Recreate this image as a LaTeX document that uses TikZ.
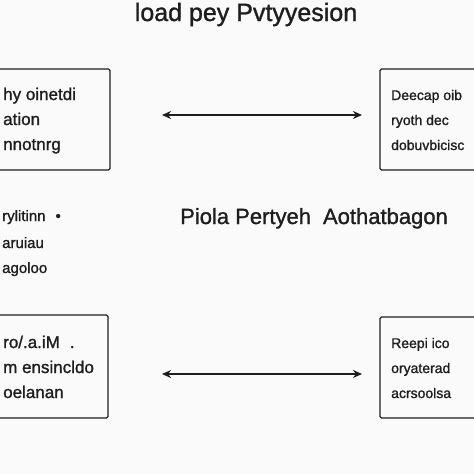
\documentclass[tikz,border=0pt]{standalone}
\usepackage{fontspec}
\setmainfont{Liberation Sans}[FakeBold=1.2]
\usetikzlibrary{arrows.meta}
\definecolor{ink}{HTML}{1E1E1E}
\definecolor{paper}{HTML}{FAFAFA}
\begin{document}
\begin{tikzpicture}[x=1pt,y=-1pt,
  box/.style={draw=ink,line width=1.2pt,rounded corners=1.5pt},
  boxtxt/.style={anchor=base west,inner sep=0pt,text=ink,font=\fontsize{17}{17}\selectfont},
  rtxt/.style={anchor=base west,inner sep=0pt,text=ink,font=\fontsize{14}{14}\selectfont},
  midtxt/.style={anchor=base west,inner sep=0pt,text=ink,font=\fontsize{15}{15}\selectfont},
  link/.style={draw=ink,line width=1.6pt,{Stealth[length=9pt,width=8pt]}-{Stealth[length=9pt,width=8pt,open]}}]
\useasboundingbox (0,0) rectangle (474,474);
\fill[paper] (0,0) rectangle (474,474);
% title
\node[anchor=base,inner sep=0pt,text=ink,font=\fontsize{25}{25}\selectfont] (title) at (246,21) {load pey Pvtyyesion};
% top left box
\draw[box] (-2,69) rectangle (110,170);
\node[inner sep=0pt] (tl) at (54,119.5) {};
\node[boxtxt] (tl1) at (3,100) {hy oinetdi};
\node[boxtxt] (tl2) at (3,125) {ation};
\node[boxtxt] (tl3) at (3,150) {nnotnrg};
% top right box
\draw[box] (380,69) rectangle (476,170);
\node[inner sep=0pt] (tr) at (427,119.5) {};
\node[rtxt] (tr1) at (391,100) {Deecap oib};
\node[rtxt] (tr2) at (391,125) {ryoth dec};
\node[rtxt] (tr3) at (391,150) {dobuvbicisc};
% top arrow
\coordinate (ta) at (162,115);
\coordinate (tb) at (362,115);
\draw[link] (ta) -- (tb);
% middle
\node[midtxt] (m1) at (2,221) {rylitinn\hspace{10pt}•};
\node[midtxt] (m2) at (2,248) {aruiau};
\node[midtxt] (m3) at (2,273) {agoloo};
\node[anchor=base west,inner sep=0pt,text=ink,font=\fontsize{22}{22}\selectfont] (mr) at (180,224) {Piola Pertyeh\hspace{12pt}Aothatbagon};
% bottom left box
\draw[box] (-2,315) rectangle (108,418);
\node[inner sep=0pt] (bl) at (53,366.5) {};
\node[boxtxt] (bl1) at (3,348) {ro/.a.iM\hspace{10pt}.};
\node[boxtxt] (bl2) at (3,373) {m ensincldo};
\node[boxtxt] (bl3) at (3,398) {oelanan};
% bottom right box
\draw[box] (380,317) rectangle (476,418);
\node[inner sep=0pt] (br) at (427,367.5) {};
\node[rtxt] (br1) at (391,348) {Reepi ico};
\node[rtxt] (br2) at (391,373) {oryaterad};
\node[rtxt] (br3) at (391,398) {acrsoolsa};
% bottom arrow
\coordinate (ba) at (162,374);
\coordinate (bb) at (362,374);
\draw[link] (ba) -- (bb);
\end{tikzpicture}
\end{document}
